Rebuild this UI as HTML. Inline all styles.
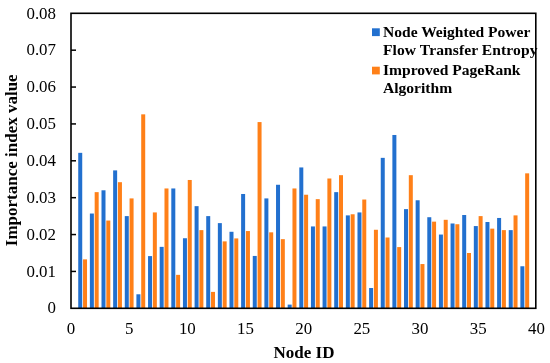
<!DOCTYPE html>
<html><head><meta charset="utf-8"><title>Importance index chart</title>
<style>
html,body{margin:0;padding:0;background:#fff;}
body{width:550px;height:363px;overflow:hidden;}
svg{display:block;}
text{font-family:"Liberation Serif","Times New Roman",serif;fill:#000;}
.t{font-size:16.9px;}
.b{font-weight:bold;font-size:17px;}
.lg{font-weight:bold;font-size:15.55px;}
</style></head><body>
<svg width="550" height="363" viewBox="0 0 550 363">
<rect width="550" height="363" fill="#fff"/>
<g shape-rendering="auto">
<rect x="78.23" y="152.84" width="4.0" height="155.47" fill="#2270cf"/>
<rect x="83.04" y="259.37" width="4.0" height="48.93" fill="#ff8018"/>
<rect x="89.87" y="213.53" width="4.0" height="94.77" fill="#2270cf"/>
<rect x="94.67" y="192.14" width="4.0" height="116.16" fill="#ff8018"/>
<rect x="101.50" y="190.30" width="4.0" height="118.00" fill="#2270cf"/>
<rect x="106.31" y="220.54" width="4.0" height="87.76" fill="#ff8018"/>
<rect x="113.14" y="170.39" width="4.0" height="137.91" fill="#2270cf"/>
<rect x="117.94" y="182.19" width="4.0" height="126.11" fill="#ff8018"/>
<rect x="124.78" y="216.11" width="4.0" height="92.19" fill="#2270cf"/>
<rect x="129.58" y="198.41" width="4.0" height="109.89" fill="#ff8018"/>
<rect x="136.41" y="294.29" width="4.0" height="14.01" fill="#2270cf"/>
<rect x="141.21" y="114.34" width="4.0" height="193.96" fill="#ff8018"/>
<rect x="148.04" y="256.09" width="4.0" height="52.21" fill="#2270cf"/>
<rect x="152.84" y="212.43" width="4.0" height="95.88" fill="#ff8018"/>
<rect x="159.68" y="246.87" width="4.0" height="61.43" fill="#2270cf"/>
<rect x="164.48" y="188.46" width="4.0" height="119.84" fill="#ff8018"/>
<rect x="171.31" y="188.46" width="4.0" height="119.84" fill="#2270cf"/>
<rect x="176.12" y="274.85" width="4.0" height="33.45" fill="#ff8018"/>
<rect x="182.95" y="238.24" width="4.0" height="70.06" fill="#2270cf"/>
<rect x="187.75" y="179.98" width="4.0" height="128.32" fill="#ff8018"/>
<rect x="194.59" y="206.16" width="4.0" height="102.14" fill="#2270cf"/>
<rect x="199.39" y="230.12" width="4.0" height="78.18" fill="#ff8018"/>
<rect x="206.22" y="216.11" width="4.0" height="92.19" fill="#2270cf"/>
<rect x="211.02" y="291.89" width="4.0" height="16.41" fill="#ff8018"/>
<rect x="217.85" y="223.12" width="4.0" height="85.18" fill="#2270cf"/>
<rect x="222.66" y="241.37" width="4.0" height="66.93" fill="#ff8018"/>
<rect x="229.49" y="231.78" width="4.0" height="76.52" fill="#2270cf"/>
<rect x="234.29" y="238.42" width="4.0" height="69.88" fill="#ff8018"/>
<rect x="241.12" y="193.99" width="4.0" height="114.31" fill="#2270cf"/>
<rect x="245.93" y="231.05" width="4.0" height="77.25" fill="#ff8018"/>
<rect x="252.76" y="255.94" width="4.0" height="52.36" fill="#2270cf"/>
<rect x="257.56" y="122.08" width="4.0" height="186.22" fill="#ff8018"/>
<rect x="264.39" y="198.41" width="4.0" height="109.89" fill="#2270cf"/>
<rect x="269.19" y="232.34" width="4.0" height="75.96" fill="#ff8018"/>
<rect x="276.03" y="184.77" width="4.0" height="123.53" fill="#2270cf"/>
<rect x="280.83" y="239.16" width="4.0" height="69.14" fill="#ff8018"/>
<rect x="287.67" y="304.61" width="4.0" height="3.69" fill="#2270cf"/>
<rect x="292.46" y="188.46" width="4.0" height="119.84" fill="#ff8018"/>
<rect x="299.30" y="167.44" width="4.0" height="140.86" fill="#2270cf"/>
<rect x="304.10" y="194.73" width="4.0" height="113.57" fill="#ff8018"/>
<rect x="310.94" y="226.44" width="4.0" height="81.86" fill="#2270cf"/>
<rect x="315.74" y="199.15" width="4.0" height="109.15" fill="#ff8018"/>
<rect x="322.57" y="226.44" width="4.0" height="81.86" fill="#2270cf"/>
<rect x="327.37" y="178.50" width="4.0" height="129.80" fill="#ff8018"/>
<rect x="334.21" y="192.14" width="4.0" height="116.16" fill="#2270cf"/>
<rect x="339.00" y="175.18" width="4.0" height="133.12" fill="#ff8018"/>
<rect x="345.84" y="215.38" width="4.0" height="92.93" fill="#2270cf"/>
<rect x="350.64" y="214.27" width="4.0" height="94.03" fill="#ff8018"/>
<rect x="357.48" y="212.43" width="4.0" height="95.88" fill="#2270cf"/>
<rect x="362.27" y="199.52" width="4.0" height="108.78" fill="#ff8018"/>
<rect x="369.11" y="288.02" width="4.0" height="20.28" fill="#2270cf"/>
<rect x="373.91" y="229.76" width="4.0" height="78.54" fill="#ff8018"/>
<rect x="380.75" y="157.85" width="4.0" height="150.45" fill="#2270cf"/>
<rect x="385.54" y="237.50" width="4.0" height="70.80" fill="#ff8018"/>
<rect x="392.38" y="134.99" width="4.0" height="173.31" fill="#2270cf"/>
<rect x="397.18" y="247.09" width="4.0" height="61.21" fill="#ff8018"/>
<rect x="404.02" y="209.11" width="4.0" height="99.19" fill="#2270cf"/>
<rect x="408.81" y="175.18" width="4.0" height="133.12" fill="#ff8018"/>
<rect x="415.65" y="200.26" width="4.0" height="108.04" fill="#2270cf"/>
<rect x="420.45" y="264.05" width="4.0" height="44.25" fill="#ff8018"/>
<rect x="427.29" y="217.22" width="4.0" height="91.08" fill="#2270cf"/>
<rect x="432.08" y="221.64" width="4.0" height="86.66" fill="#ff8018"/>
<rect x="438.92" y="234.55" width="4.0" height="73.75" fill="#2270cf"/>
<rect x="443.72" y="219.80" width="4.0" height="88.50" fill="#ff8018"/>
<rect x="450.56" y="223.49" width="4.0" height="84.81" fill="#2270cf"/>
<rect x="455.35" y="224.23" width="4.0" height="84.07" fill="#ff8018"/>
<rect x="462.19" y="215.01" width="4.0" height="93.29" fill="#2270cf"/>
<rect x="466.99" y="252.99" width="4.0" height="55.31" fill="#ff8018"/>
<rect x="473.82" y="226.07" width="4.0" height="82.23" fill="#2270cf"/>
<rect x="478.62" y="216.11" width="4.0" height="92.19" fill="#ff8018"/>
<rect x="485.46" y="222.01" width="4.0" height="86.29" fill="#2270cf"/>
<rect x="490.26" y="228.65" width="4.0" height="79.65" fill="#ff8018"/>
<rect x="497.10" y="217.96" width="4.0" height="90.34" fill="#2270cf"/>
<rect x="501.89" y="230.12" width="4.0" height="78.18" fill="#ff8018"/>
<rect x="508.73" y="230.12" width="4.0" height="78.18" fill="#2270cf"/>
<rect x="513.53" y="215.38" width="4.0" height="92.93" fill="#ff8018"/>
<rect x="520.37" y="266.26" width="4.0" height="42.04" fill="#2270cf"/>
<rect x="525.16" y="173.34" width="4.0" height="134.96" fill="#ff8018"/>
</g>
<rect x="71.0" y="13.3" width="464.79999999999995" height="295.0" fill="none" stroke="#000" stroke-width="1.6"/>
<line x1="71.0" y1="271.43" x2="76.0" y2="271.43" stroke="#000" stroke-width="1.5"/><line x1="71.0" y1="234.55" x2="76.0" y2="234.55" stroke="#000" stroke-width="1.5"/><line x1="71.0" y1="197.68" x2="76.0" y2="197.68" stroke="#000" stroke-width="1.5"/><line x1="71.0" y1="160.80" x2="76.0" y2="160.80" stroke="#000" stroke-width="1.5"/><line x1="71.0" y1="123.93" x2="76.0" y2="123.93" stroke="#000" stroke-width="1.5"/><line x1="71.0" y1="87.05" x2="76.0" y2="87.05" stroke="#000" stroke-width="1.5"/><line x1="71.0" y1="50.18" x2="76.0" y2="50.18" stroke="#000" stroke-width="1.5"/>
<g class="t">
<text x="56" y="313.00" text-anchor="end">0</text><text x="56" y="276.62" text-anchor="end">0.01</text><text x="56" y="239.75" text-anchor="end">0.02</text><text x="56" y="202.88" text-anchor="end">0.03</text><text x="56" y="166.00" text-anchor="end">0.04</text><text x="56" y="129.12" text-anchor="end">0.05</text><text x="56" y="92.25" text-anchor="end">0.06</text><text x="56" y="55.38" text-anchor="end">0.07</text><text x="56" y="18.50" text-anchor="end">0.08</text>
<text x="71.00" y="334" text-anchor="middle">0</text><text x="129.18" y="334" text-anchor="middle">5</text><text x="187.35" y="334" text-anchor="middle">10</text><text x="245.53" y="334" text-anchor="middle">15</text><text x="303.70" y="334" text-anchor="middle">20</text><text x="361.88" y="334" text-anchor="middle">25</text><text x="420.05" y="334" text-anchor="middle">30</text><text x="478.22" y="334" text-anchor="middle">35</text><text x="536.40" y="334" text-anchor="middle">40</text>
</g>
<text class="b" x="304" y="358.4" text-anchor="middle">Node ID</text>
<text class="b" transform="translate(17,160.3) rotate(-90)" text-anchor="middle">Importance index value</text>
<rect x="372.0" y="28.3" width="7.8" height="7.8" fill="#2270cf"/>
<text class="lg" x="383.0" y="36.9">Node Weighted Power</text>
<text class="lg" x="383.0" y="54.8" letter-spacing="0.09">Flow Transfer Entropy</text>
<rect x="372.0" y="66.7" width="7.8" height="7.7" fill="#ff8018"/>
<text class="lg" x="383.0" y="75.2">Improved PageRank</text>
<text class="lg" x="383.0" y="92.7">Algorithm</text>
</svg>
</body></html>
